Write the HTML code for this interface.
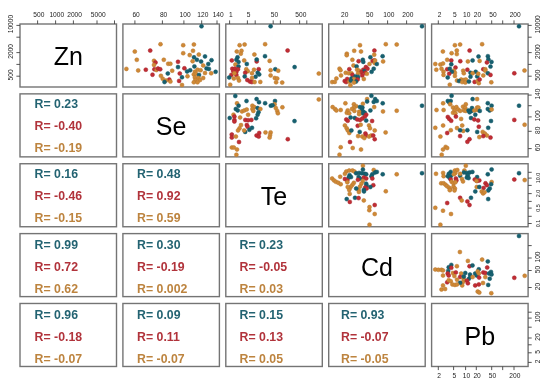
<!DOCTYPE html>
<html><head><meta charset="utf-8"><style>
html,body{margin:0;padding:0;background:#fff;}
body{width:550px;height:386px;overflow:hidden;}
svg{display:block;}
.tl{font-family:"Liberation Sans",Arial,sans-serif;font-size:7px;fill:#222;}
.tv{font-family:"Liberation Sans",Arial,sans-serif;font-size:6.6px;fill:#222;}
.tte{font-family:"Liberation Sans",Arial,sans-serif;font-size:5.4px;fill:#222;}
.dg{font-family:"Liberation Sans",Arial,sans-serif;font-size:25px;fill:#000;}
.rv{font-family:"Liberation Sans",Arial,sans-serif;font-size:12.3px;font-weight:bold;}
</style></head><body>
<svg width="550" height="386" viewBox="0 0 550 386">
<rect x="20.00" y="24.00" width="96.5" height="63.0" fill="none" stroke="#747474" stroke-width="1.4"/>
<rect x="122.90" y="24.00" width="96.5" height="63.0" fill="none" stroke="#747474" stroke-width="1.4"/>
<rect x="225.80" y="24.00" width="96.5" height="63.0" fill="none" stroke="#747474" stroke-width="1.4"/>
<rect x="328.70" y="24.00" width="96.5" height="63.0" fill="none" stroke="#747474" stroke-width="1.4"/>
<rect x="431.60" y="24.00" width="96.5" height="63.0" fill="none" stroke="#747474" stroke-width="1.4"/>
<rect x="20.00" y="93.87" width="96.5" height="63.0" fill="none" stroke="#747474" stroke-width="1.4"/>
<rect x="122.90" y="93.87" width="96.5" height="63.0" fill="none" stroke="#747474" stroke-width="1.4"/>
<rect x="225.80" y="93.87" width="96.5" height="63.0" fill="none" stroke="#747474" stroke-width="1.4"/>
<rect x="328.70" y="93.87" width="96.5" height="63.0" fill="none" stroke="#747474" stroke-width="1.4"/>
<rect x="431.60" y="93.87" width="96.5" height="63.0" fill="none" stroke="#747474" stroke-width="1.4"/>
<rect x="20.00" y="163.74" width="96.5" height="63.0" fill="none" stroke="#747474" stroke-width="1.4"/>
<rect x="122.90" y="163.74" width="96.5" height="63.0" fill="none" stroke="#747474" stroke-width="1.4"/>
<rect x="225.80" y="163.74" width="96.5" height="63.0" fill="none" stroke="#747474" stroke-width="1.4"/>
<rect x="328.70" y="163.74" width="96.5" height="63.0" fill="none" stroke="#747474" stroke-width="1.4"/>
<rect x="431.60" y="163.74" width="96.5" height="63.0" fill="none" stroke="#747474" stroke-width="1.4"/>
<rect x="20.00" y="233.61" width="96.5" height="63.0" fill="none" stroke="#747474" stroke-width="1.4"/>
<rect x="122.90" y="233.61" width="96.5" height="63.0" fill="none" stroke="#747474" stroke-width="1.4"/>
<rect x="225.80" y="233.61" width="96.5" height="63.0" fill="none" stroke="#747474" stroke-width="1.4"/>
<rect x="328.70" y="233.61" width="96.5" height="63.0" fill="none" stroke="#747474" stroke-width="1.4"/>
<rect x="431.60" y="233.61" width="96.5" height="63.0" fill="none" stroke="#747474" stroke-width="1.4"/>
<rect x="20.00" y="303.48" width="96.5" height="63.0" fill="none" stroke="#747474" stroke-width="1.4"/>
<rect x="122.90" y="303.48" width="96.5" height="63.0" fill="none" stroke="#747474" stroke-width="1.4"/>
<rect x="225.80" y="303.48" width="96.5" height="63.0" fill="none" stroke="#747474" stroke-width="1.4"/>
<rect x="328.70" y="303.48" width="96.5" height="63.0" fill="none" stroke="#747474" stroke-width="1.4"/>
<rect x="431.60" y="303.48" width="96.5" height="63.0" fill="none" stroke="#747474" stroke-width="1.4"/>
<line x1="37.6" y1="20.40" x2="37.6" y2="24.0" stroke="#444" stroke-width="0.9"/>
<text transform="translate(38.80,16.6) scale(0.95,1)" class="tl" text-anchor="middle">500</text>
<line x1="55.6" y1="20.40" x2="55.6" y2="24.0" stroke="#444" stroke-width="0.9"/>
<text transform="translate(56.80,16.6) scale(0.95,1)" class="tl" text-anchor="middle">1000</text>
<line x1="73.4" y1="20.40" x2="73.4" y2="24.0" stroke="#444" stroke-width="0.9"/>
<text transform="translate(74.60,16.6) scale(0.95,1)" class="tl" text-anchor="middle">2000</text>
<line x1="97.0" y1="20.40" x2="97.0" y2="24.0" stroke="#444" stroke-width="0.9"/>
<text transform="translate(98.20,16.6) scale(0.95,1)" class="tl" text-anchor="middle">5000</text>
<line x1="114.5" y1="20.40" x2="114.5" y2="24.0" stroke="#444" stroke-width="0.9"/>
<line x1="134.9" y1="20.40" x2="134.9" y2="24.0" stroke="#444" stroke-width="0.9"/>
<text transform="translate(136.10,16.6) scale(0.95,1)" class="tl" text-anchor="middle">60</text>
<line x1="162.4" y1="20.40" x2="162.4" y2="24.0" stroke="#444" stroke-width="0.9"/>
<text transform="translate(163.60,16.6) scale(0.95,1)" class="tl" text-anchor="middle">80</text>
<line x1="183.9" y1="20.40" x2="183.9" y2="24.0" stroke="#444" stroke-width="0.9"/>
<text transform="translate(185.10,16.6) scale(0.95,1)" class="tl" text-anchor="middle">100</text>
<line x1="201.7" y1="20.40" x2="201.7" y2="24.0" stroke="#444" stroke-width="0.9"/>
<text transform="translate(202.90,16.6) scale(0.95,1)" class="tl" text-anchor="middle">120</text>
<line x1="217.0" y1="20.40" x2="217.0" y2="24.0" stroke="#444" stroke-width="0.9"/>
<text transform="translate(218.20,16.6) scale(0.95,1)" class="tl" text-anchor="middle">140</text>
<line x1="229.6" y1="20.40" x2="229.6" y2="24.0" stroke="#444" stroke-width="0.9"/>
<text transform="translate(230.80,16.6) scale(0.95,1)" class="tl" text-anchor="middle">1</text>
<line x1="247.4" y1="20.40" x2="247.4" y2="24.0" stroke="#444" stroke-width="0.9"/>
<text transform="translate(248.60,16.6) scale(0.95,1)" class="tl" text-anchor="middle">5</text>
<line x1="255.2" y1="20.40" x2="255.2" y2="24.0" stroke="#444" stroke-width="0.9"/>
<line x1="273.2" y1="20.40" x2="273.2" y2="24.0" stroke="#444" stroke-width="0.9"/>
<text transform="translate(274.40,16.6) scale(0.95,1)" class="tl" text-anchor="middle">50</text>
<line x1="280.4" y1="20.40" x2="280.4" y2="24.0" stroke="#444" stroke-width="0.9"/>
<line x1="299.6" y1="20.40" x2="299.6" y2="24.0" stroke="#444" stroke-width="0.9"/>
<text transform="translate(300.80,16.6) scale(0.95,1)" class="tl" text-anchor="middle">500</text>
<line x1="306.8" y1="20.40" x2="306.8" y2="24.0" stroke="#444" stroke-width="0.9"/>
<line x1="343.6" y1="20.40" x2="343.6" y2="24.0" stroke="#444" stroke-width="0.9"/>
<text transform="translate(344.80,16.6) scale(0.95,1)" class="tl" text-anchor="middle">20</text>
<line x1="368.6" y1="20.40" x2="368.6" y2="24.0" stroke="#444" stroke-width="0.9"/>
<text transform="translate(369.80,16.6) scale(0.95,1)" class="tl" text-anchor="middle">50</text>
<line x1="387.6" y1="20.40" x2="387.6" y2="24.0" stroke="#444" stroke-width="0.9"/>
<text transform="translate(388.80,16.6) scale(0.95,1)" class="tl" text-anchor="middle">100</text>
<line x1="406.6" y1="20.40" x2="406.6" y2="24.0" stroke="#444" stroke-width="0.9"/>
<text transform="translate(407.80,16.6) scale(0.95,1)" class="tl" text-anchor="middle">200</text>
<line x1="438.3" y1="20.40" x2="438.3" y2="24.0" stroke="#444" stroke-width="0.9"/>
<text transform="translate(439.50,16.6) scale(0.95,1)" class="tl" text-anchor="middle">2</text>
<line x1="453.6" y1="20.40" x2="453.6" y2="24.0" stroke="#444" stroke-width="0.9"/>
<text transform="translate(454.80,16.6) scale(0.95,1)" class="tl" text-anchor="middle">5</text>
<line x1="465.6" y1="20.40" x2="465.6" y2="24.0" stroke="#444" stroke-width="0.9"/>
<text transform="translate(466.80,16.6) scale(0.95,1)" class="tl" text-anchor="middle">10</text>
<line x1="476.3" y1="20.40" x2="476.3" y2="24.0" stroke="#444" stroke-width="0.9"/>
<text transform="translate(477.50,16.6) scale(0.95,1)" class="tl" text-anchor="middle">20</text>
<line x1="491.7" y1="20.40" x2="491.7" y2="24.0" stroke="#444" stroke-width="0.9"/>
<text transform="translate(492.90,16.6) scale(0.95,1)" class="tl" text-anchor="middle">50</text>
<line x1="502.7" y1="20.40" x2="502.7" y2="24.0" stroke="#444" stroke-width="0.9"/>
<line x1="514.0" y1="20.40" x2="514.0" y2="24.0" stroke="#444" stroke-width="0.9"/>
<text transform="translate(515.20,16.6) scale(0.95,1)" class="tl" text-anchor="middle">200</text>
<line x1="438.3" y1="366.48" x2="438.3" y2="370.08" stroke="#444" stroke-width="0.9"/>
<text transform="translate(439.10,378.08) scale(0.95,1)" class="tl" text-anchor="middle">2</text>
<line x1="453.6" y1="366.48" x2="453.6" y2="370.08" stroke="#444" stroke-width="0.9"/>
<text transform="translate(454.40,378.08) scale(0.95,1)" class="tl" text-anchor="middle">5</text>
<line x1="465.6" y1="366.48" x2="465.6" y2="370.08" stroke="#444" stroke-width="0.9"/>
<text transform="translate(466.40,378.08) scale(0.95,1)" class="tl" text-anchor="middle">10</text>
<line x1="476.3" y1="366.48" x2="476.3" y2="370.08" stroke="#444" stroke-width="0.9"/>
<text transform="translate(477.10,378.08) scale(0.95,1)" class="tl" text-anchor="middle">20</text>
<line x1="491.7" y1="366.48" x2="491.7" y2="370.08" stroke="#444" stroke-width="0.9"/>
<text transform="translate(492.50,378.08) scale(0.95,1)" class="tl" text-anchor="middle">50</text>
<line x1="502.7" y1="366.48" x2="502.7" y2="370.08" stroke="#444" stroke-width="0.9"/>
<line x1="514.0" y1="366.48" x2="514.0" y2="370.08" stroke="#444" stroke-width="0.9"/>
<text transform="translate(514.80,378.08) scale(0.95,1)" class="tl" text-anchor="middle">200</text>
<line x1="16.40" y1="25.4" x2="20.0" y2="25.4" stroke="#444" stroke-width="0.9"/>
<text transform="translate(13.2,24.10) rotate(-90)" class="tv" text-anchor="middle">10000</text>
<line x1="16.40" y1="37.2" x2="20.0" y2="37.2" stroke="#444" stroke-width="0.9"/>
<line x1="16.40" y1="52.6" x2="20.0" y2="52.6" stroke="#444" stroke-width="0.9"/>
<text transform="translate(13.2,51.30) rotate(-90)" class="tv" text-anchor="middle">2000</text>
<line x1="16.40" y1="64.4" x2="20.0" y2="64.4" stroke="#444" stroke-width="0.9"/>
<line x1="16.40" y1="76.2" x2="20.0" y2="76.2" stroke="#444" stroke-width="0.9"/>
<text transform="translate(13.2,74.90) rotate(-90)" class="tv" text-anchor="middle">500</text>
<line x1="528.10" y1="25.4" x2="531.70" y2="25.4" stroke="#444" stroke-width="0.9"/>
<text transform="translate(539.50,24.40) rotate(-90)" class="tv" text-anchor="middle">10000</text>
<line x1="528.10" y1="37.2" x2="531.70" y2="37.2" stroke="#444" stroke-width="0.9"/>
<line x1="528.10" y1="52.6" x2="531.70" y2="52.6" stroke="#444" stroke-width="0.9"/>
<text transform="translate(539.50,51.60) rotate(-90)" class="tv" text-anchor="middle">2000</text>
<line x1="528.10" y1="64.4" x2="531.70" y2="64.4" stroke="#444" stroke-width="0.9"/>
<line x1="528.10" y1="76.2" x2="531.70" y2="76.2" stroke="#444" stroke-width="0.9"/>
<text transform="translate(539.50,75.20) rotate(-90)" class="tv" text-anchor="middle">500</text>
<line x1="528.10" y1="95.1" x2="531.70" y2="95.1" stroke="#444" stroke-width="0.9"/>
<text transform="translate(539.50,94.10) rotate(-90)" class="tv" text-anchor="middle">140</text>
<line x1="528.10" y1="105.7" x2="531.70" y2="105.7" stroke="#444" stroke-width="0.9"/>
<line x1="528.10" y1="116.9" x2="531.70" y2="116.9" stroke="#444" stroke-width="0.9"/>
<text transform="translate(539.50,115.90) rotate(-90)" class="tv" text-anchor="middle">100</text>
<line x1="528.10" y1="131.3" x2="531.70" y2="131.3" stroke="#444" stroke-width="0.9"/>
<text transform="translate(539.50,130.30) rotate(-90)" class="tv" text-anchor="middle">80</text>
<line x1="528.10" y1="148.6" x2="531.70" y2="148.6" stroke="#444" stroke-width="0.9"/>
<text transform="translate(539.50,147.60) rotate(-90)" class="tv" text-anchor="middle">60</text>
<line x1="528.10" y1="172.3" x2="531.70" y2="172.3" stroke="#444" stroke-width="0.9"/>
<line x1="528.10" y1="178.1" x2="531.70" y2="178.1" stroke="#444" stroke-width="0.9"/>
<text transform="translate(539.50,178.10) rotate(-90)" class="tte" text-anchor="middle">10.0</text>
<line x1="528.10" y1="185.4" x2="531.70" y2="185.4" stroke="#444" stroke-width="0.9"/>
<line x1="528.10" y1="193.6" x2="531.70" y2="193.6" stroke="#444" stroke-width="0.9"/>
<text transform="translate(539.50,193.60) rotate(-90)" class="tte" text-anchor="middle">2.0</text>
<line x1="528.10" y1="201.4" x2="531.70" y2="201.4" stroke="#444" stroke-width="0.9"/>
<line x1="528.10" y1="208.1" x2="531.70" y2="208.1" stroke="#444" stroke-width="0.9"/>
<text transform="translate(539.50,208.10) rotate(-90)" class="tte" text-anchor="middle">0.5</text>
<line x1="528.10" y1="216.3" x2="531.70" y2="216.3" stroke="#444" stroke-width="0.9"/>
<line x1="528.10" y1="223.5" x2="531.70" y2="223.5" stroke="#444" stroke-width="0.9"/>
<text transform="translate(539.50,223.50) rotate(-90)" class="tte" text-anchor="middle">0.1</text>
<line x1="528.10" y1="245.6" x2="531.70" y2="245.6" stroke="#444" stroke-width="0.9"/>
<line x1="528.10" y1="258.0" x2="531.70" y2="258.0" stroke="#444" stroke-width="0.9"/>
<text transform="translate(539.50,257.00) rotate(-90)" class="tv" text-anchor="middle">100</text>
<line x1="528.10" y1="270.5" x2="531.70" y2="270.5" stroke="#444" stroke-width="0.9"/>
<text transform="translate(539.50,269.50) rotate(-90)" class="tv" text-anchor="middle">50</text>
<line x1="528.10" y1="287.5" x2="531.70" y2="287.5" stroke="#444" stroke-width="0.9"/>
<text transform="translate(539.50,286.50) rotate(-90)" class="tv" text-anchor="middle">20</text>
<line x1="528.10" y1="312.2" x2="531.70" y2="312.2" stroke="#444" stroke-width="0.9"/>
<line x1="528.10" y1="318.1" x2="531.70" y2="318.1" stroke="#444" stroke-width="0.9"/>
<text transform="translate(539.50,317.10) rotate(-90)" class="tv" text-anchor="middle">100</text>
<line x1="528.10" y1="327.2" x2="531.70" y2="327.2" stroke="#444" stroke-width="0.9"/>
<line x1="528.10" y1="338.0" x2="531.70" y2="338.0" stroke="#444" stroke-width="0.9"/>
<text transform="translate(539.50,337.00) rotate(-90)" class="tv" text-anchor="middle">20</text>
<line x1="528.10" y1="344.8" x2="531.70" y2="344.8" stroke="#444" stroke-width="0.9"/>
<line x1="528.10" y1="352.8" x2="531.70" y2="352.8" stroke="#444" stroke-width="0.9"/>
<text transform="translate(539.50,351.80) rotate(-90)" class="tv" text-anchor="middle">5</text>
<line x1="528.10" y1="362.4" x2="531.70" y2="362.4" stroke="#444" stroke-width="0.9"/>
<text transform="translate(539.50,361.40) rotate(-90)" class="tv" text-anchor="middle">2</text>
<text x="68.25" y="64.70" class="dg" text-anchor="middle">Zn</text>
<text x="171.15" y="134.57" class="dg" text-anchor="middle">Se</text>
<text x="274.05" y="204.64" class="dg" text-anchor="middle">Te</text>
<text x="376.95" y="275.51" class="dg" text-anchor="middle">Cd</text>
<text x="479.85" y="345.38" class="dg" text-anchor="middle">Pb</text>
<text x="34.60" y="107.87" class="rv" fill="#236372">R= 0.23</text>
<text x="34.60" y="130.17" class="rv" fill="#b1333b">R= -0.40</text>
<text x="34.60" y="152.47" class="rv" fill="#bd843f">R= -0.19</text>
<text x="34.60" y="177.74" class="rv" fill="#236372">R= 0.16</text>
<text x="34.60" y="200.04" class="rv" fill="#b1333b">R= -0.46</text>
<text x="34.60" y="222.34" class="rv" fill="#bd843f">R= -0.15</text>
<text x="137.10" y="177.74" class="rv" fill="#236372">R= 0.48</text>
<text x="137.10" y="200.04" class="rv" fill="#b1333b">R= 0.92</text>
<text x="137.10" y="222.34" class="rv" fill="#bd843f">R= 0.59</text>
<text x="34.60" y="248.81" class="rv" fill="#236372">R= 0.99</text>
<text x="34.60" y="271.11" class="rv" fill="#b1333b">R= 0.72</text>
<text x="34.60" y="293.41" class="rv" fill="#bd843f">R= 0.62</text>
<text x="137.10" y="248.81" class="rv" fill="#236372">R= 0.30</text>
<text x="137.10" y="271.11" class="rv" fill="#b1333b">R= -0.19</text>
<text x="137.10" y="293.41" class="rv" fill="#bd843f">R= 0.002</text>
<text x="239.60" y="248.81" class="rv" fill="#236372">R= 0.23</text>
<text x="239.60" y="271.11" class="rv" fill="#b1333b">R= -0.05</text>
<text x="239.60" y="293.41" class="rv" fill="#bd843f">R= 0.03</text>
<text x="34.60" y="318.88" class="rv" fill="#236372">R= 0.96</text>
<text x="34.60" y="341.18" class="rv" fill="#b1333b">R= -0.18</text>
<text x="34.60" y="363.48" class="rv" fill="#bd843f">R= -0.07</text>
<text x="137.10" y="318.88" class="rv" fill="#236372">R= 0.09</text>
<text x="137.10" y="341.18" class="rv" fill="#b1333b">R= 0.11</text>
<text x="137.10" y="363.48" class="rv" fill="#bd843f">R= -0.07</text>
<text x="239.60" y="318.88" class="rv" fill="#236372">R= 0.15</text>
<text x="239.60" y="341.18" class="rv" fill="#b1333b">R= 0.13</text>
<text x="239.60" y="363.48" class="rv" fill="#bd843f">R= 0.05</text>
<text x="341.00" y="318.88" class="rv" fill="#236372">R= 0.93</text>
<text x="341.00" y="341.18" class="rv" fill="#b1333b">R= -0.07</text>
<text x="341.00" y="363.48" class="rv" fill="#bd843f">R= -0.05</text>
<g stroke-width="0.5">
<circle cx="134.8" cy="51.6" r="2.0" fill="#cf8936" stroke="#b9772e"/>
<circle cx="150.2" cy="50.6" r="2.0" fill="#c12d34" stroke="#a5232b"/>
<circle cx="160.5" cy="44.2" r="2.0" fill="#cf8936" stroke="#b9772e"/>
<circle cx="136.8" cy="59.8" r="2.0" fill="#cf8936" stroke="#b9772e"/>
<circle cx="163.8" cy="59.8" r="2.0" fill="#cf8936" stroke="#b9772e"/>
<circle cx="154.0" cy="60.8" r="2.0" fill="#cf8936" stroke="#b9772e"/>
<circle cx="155.5" cy="62.5" r="2.0" fill="#c12d34" stroke="#a5232b"/>
<circle cx="154.0" cy="64.9" r="2.0" fill="#cf8936" stroke="#b9772e"/>
<circle cx="168.2" cy="63.8" r="2.0" fill="#cf8936" stroke="#b9772e"/>
<circle cx="170.4" cy="63.8" r="2.0" fill="#cf8936" stroke="#b9772e"/>
<circle cx="126.4" cy="68.9" r="2.0" fill="#cf8936" stroke="#b9772e"/>
<circle cx="138.2" cy="70.4" r="2.0" fill="#cf8936" stroke="#b9772e"/>
<circle cx="145.8" cy="69.7" r="2.0" fill="#c12d34" stroke="#a5232b"/>
<circle cx="154.4" cy="69.3" r="2.0" fill="#c12d34" stroke="#a5232b"/>
<circle cx="156.5" cy="70.0" r="2.0" fill="#cf8936" stroke="#b9772e"/>
<circle cx="158.0" cy="68.5" r="2.0" fill="#c12d34" stroke="#a5232b"/>
<circle cx="160.2" cy="69.3" r="2.0" fill="#c12d34" stroke="#a5232b"/>
<circle cx="172.2" cy="70.7" r="2.0" fill="#cf8936" stroke="#b9772e"/>
<circle cx="167.8" cy="73.5" r="2.0" fill="#17606f" stroke="#135666"/>
<circle cx="152.5" cy="74.7" r="2.0" fill="#c12d34" stroke="#a5232b"/>
<circle cx="160.9" cy="75.8" r="2.0" fill="#cf8936" stroke="#b9772e"/>
<circle cx="162.7" cy="78.7" r="2.0" fill="#cf8936" stroke="#b9772e"/>
<circle cx="169.3" cy="79.5" r="2.0" fill="#c12d34" stroke="#a5232b"/>
<circle cx="166.0" cy="80.5" r="2.0" fill="#cf8936" stroke="#b9772e"/>
<circle cx="170.4" cy="81.6" r="2.0" fill="#cf8936" stroke="#b9772e"/>
<circle cx="164.5" cy="82.0" r="2.0" fill="#17606f" stroke="#135666"/>
<circle cx="201.5" cy="26.3" r="2.0" fill="#17606f" stroke="#135666"/>
<circle cx="183.2" cy="45.2" r="2.0" fill="#cf8936" stroke="#b9772e"/>
<circle cx="193.9" cy="44.5" r="2.0" fill="#cf8936" stroke="#b9772e"/>
<circle cx="193.0" cy="50.8" r="2.0" fill="#cf8936" stroke="#b9772e"/>
<circle cx="183.2" cy="53.2" r="2.0" fill="#cf8936" stroke="#b9772e"/>
<circle cx="189.7" cy="55.1" r="2.0" fill="#cf8936" stroke="#b9772e"/>
<circle cx="198.8" cy="54.6" r="2.0" fill="#cf8936" stroke="#b9772e"/>
<circle cx="205.0" cy="56.4" r="2.0" fill="#17606f" stroke="#135666"/>
<circle cx="194.0" cy="57.3" r="2.0" fill="#17606f" stroke="#135666"/>
<circle cx="196.9" cy="59.8" r="2.0" fill="#17606f" stroke="#135666"/>
<circle cx="192.6" cy="61.2" r="2.0" fill="#cf8936" stroke="#b9772e"/>
<circle cx="201.1" cy="61.6" r="2.0" fill="#17606f" stroke="#135666"/>
<circle cx="211.5" cy="60.2" r="2.0" fill="#17606f" stroke="#135666"/>
<circle cx="178.0" cy="61.8" r="2.0" fill="#c12d34" stroke="#a5232b"/>
<circle cx="208.3" cy="64.0" r="2.0" fill="#17606f" stroke="#135666"/>
<circle cx="203.2" cy="65.5" r="2.0" fill="#cf8936" stroke="#b9772e"/>
<circle cx="194.4" cy="66.4" r="2.0" fill="#17606f" stroke="#135666"/>
<circle cx="178.0" cy="67.1" r="2.0" fill="#17606f" stroke="#135666"/>
<circle cx="184.4" cy="68.3" r="2.0" fill="#c12d34" stroke="#a5232b"/>
<circle cx="206.5" cy="68.4" r="2.0" fill="#17606f" stroke="#135666"/>
<circle cx="208.9" cy="68.9" r="2.0" fill="#17606f" stroke="#135666"/>
<circle cx="190.2" cy="70.2" r="2.0" fill="#17606f" stroke="#135666"/>
<circle cx="187.1" cy="71.5" r="2.0" fill="#17606f" stroke="#135666"/>
<circle cx="197.5" cy="69.7" r="2.0" fill="#cf8936" stroke="#b9772e"/>
<circle cx="200.6" cy="70.2" r="2.0" fill="#cf8936" stroke="#b9772e"/>
<circle cx="194.9" cy="71.8" r="2.0" fill="#cf8936" stroke="#b9772e"/>
<circle cx="215.6" cy="71.8" r="2.0" fill="#17606f" stroke="#135666"/>
<circle cx="205.0" cy="73.0" r="2.0" fill="#cf8936" stroke="#b9772e"/>
<circle cx="211.2" cy="73.3" r="2.0" fill="#cf8936" stroke="#b9772e"/>
<circle cx="179.8" cy="73.5" r="2.0" fill="#c12d34" stroke="#a5232b"/>
<circle cx="193.8" cy="74.4" r="2.0" fill="#cf8936" stroke="#b9772e"/>
<circle cx="195.9" cy="73.8" r="2.0" fill="#cf8936" stroke="#b9772e"/>
<circle cx="199.0" cy="74.9" r="2.0" fill="#17606f" stroke="#135666"/>
<circle cx="187.5" cy="76.3" r="2.0" fill="#cf8936" stroke="#b9772e"/>
<circle cx="182.0" cy="77.3" r="2.0" fill="#17606f" stroke="#135666"/>
<circle cx="194.9" cy="77.5" r="2.0" fill="#cf8936" stroke="#b9772e"/>
<circle cx="198.5" cy="78.0" r="2.0" fill="#cf8936" stroke="#b9772e"/>
<circle cx="203.2" cy="78.0" r="2.0" fill="#cf8936" stroke="#b9772e"/>
<circle cx="195.4" cy="80.0" r="2.0" fill="#cf8936" stroke="#b9772e"/>
<circle cx="200.0" cy="80.0" r="2.0" fill="#cf8936" stroke="#b9772e"/>
<circle cx="179.1" cy="80.9" r="2.0" fill="#c12d34" stroke="#a5232b"/>
<circle cx="193.8" cy="82.3" r="2.0" fill="#cf8936" stroke="#b9772e"/>
<circle cx="197.5" cy="82.3" r="2.0" fill="#cf8936" stroke="#b9772e"/>
<circle cx="182.0" cy="85.0" r="2.0" fill="#cf8936" stroke="#b9772e"/>
<circle cx="270.6" cy="26.3" r="2.0" fill="#17606f" stroke="#135666"/>
<circle cx="239.6" cy="45.2" r="2.0" fill="#cf8936" stroke="#b9772e"/>
<circle cx="244.6" cy="44.5" r="2.0" fill="#cf8936" stroke="#b9772e"/>
<circle cx="265.1" cy="44.2" r="2.0" fill="#cf8936" stroke="#b9772e"/>
<circle cx="236.8" cy="51.5" r="2.0" fill="#cf8936" stroke="#b9772e"/>
<circle cx="241.5" cy="50.8" r="2.0" fill="#cf8936" stroke="#b9772e"/>
<circle cx="240.8" cy="53.7" r="2.0" fill="#cf8936" stroke="#b9772e"/>
<circle cx="254.4" cy="54.5" r="2.0" fill="#cf8936" stroke="#b9772e"/>
<circle cx="265.0" cy="56.2" r="2.0" fill="#17606f" stroke="#135666"/>
<circle cx="237.5" cy="57.3" r="2.0" fill="#17606f" stroke="#135666"/>
<circle cx="231.8" cy="60.4" r="2.0" fill="#c12d34" stroke="#a5232b"/>
<circle cx="236.4" cy="59.8" r="2.0" fill="#17606f" stroke="#135666"/>
<circle cx="238.5" cy="61.9" r="2.0" fill="#17606f" stroke="#135666"/>
<circle cx="244.2" cy="60.4" r="2.0" fill="#cf8936" stroke="#b9772e"/>
<circle cx="256.7" cy="61.4" r="2.0" fill="#c12d34" stroke="#a5232b"/>
<circle cx="256.7" cy="59.5" r="2.0" fill="#17606f" stroke="#135666"/>
<circle cx="269.6" cy="60.9" r="2.0" fill="#cf8936" stroke="#b9772e"/>
<circle cx="246.8" cy="64.0" r="2.0" fill="#17606f" stroke="#135666"/>
<circle cx="235.4" cy="64.5" r="2.0" fill="#cf8936" stroke="#b9772e"/>
<circle cx="238.5" cy="66.4" r="2.0" fill="#17606f" stroke="#135666"/>
<circle cx="232.3" cy="68.7" r="2.0" fill="#c12d34" stroke="#a5232b"/>
<circle cx="234.9" cy="68.7" r="2.0" fill="#c12d34" stroke="#a5232b"/>
<circle cx="238.0" cy="69.2" r="2.0" fill="#c12d34" stroke="#a5232b"/>
<circle cx="233.3" cy="71.2" r="2.0" fill="#c12d34" stroke="#a5232b"/>
<circle cx="236.4" cy="71.8" r="2.0" fill="#c12d34" stroke="#a5232b"/>
<circle cx="246.3" cy="69.2" r="2.0" fill="#cf8936" stroke="#b9772e"/>
<circle cx="247.8" cy="71.2" r="2.0" fill="#cf8936" stroke="#b9772e"/>
<circle cx="245.2" cy="72.8" r="2.0" fill="#c12d34" stroke="#a5232b"/>
<circle cx="254.0" cy="69.7" r="2.0" fill="#cf8936" stroke="#b9772e"/>
<circle cx="258.7" cy="69.2" r="2.0" fill="#c12d34" stroke="#a5232b"/>
<circle cx="252.0" cy="73.3" r="2.0" fill="#cf8936" stroke="#b9772e"/>
<circle cx="257.7" cy="72.8" r="2.0" fill="#17606f" stroke="#135666"/>
<circle cx="259.2" cy="74.4" r="2.0" fill="#17606f" stroke="#135666"/>
<circle cx="270.6" cy="70.2" r="2.0" fill="#cf8936" stroke="#b9772e"/>
<circle cx="275.3" cy="69.2" r="2.0" fill="#17606f" stroke="#135666"/>
<circle cx="231.3" cy="74.9" r="2.0" fill="#c12d34" stroke="#a5232b"/>
<circle cx="236.4" cy="74.9" r="2.0" fill="#c12d34" stroke="#a5232b"/>
<circle cx="234.4" cy="73.3" r="2.0" fill="#cf8936" stroke="#b9772e"/>
<circle cx="270.6" cy="75.4" r="2.0" fill="#cf8936" stroke="#b9772e"/>
<circle cx="229.2" cy="77.5" r="2.0" fill="#17606f" stroke="#135666"/>
<circle cx="233.8" cy="78.5" r="2.0" fill="#cf8936" stroke="#b9772e"/>
<circle cx="238.0" cy="78.0" r="2.0" fill="#cf8936" stroke="#b9772e"/>
<circle cx="244.7" cy="76.4" r="2.0" fill="#17606f" stroke="#135666"/>
<circle cx="255.6" cy="76.7" r="2.0" fill="#17606f" stroke="#135666"/>
<circle cx="252.0" cy="78.0" r="2.0" fill="#cf8936" stroke="#b9772e"/>
<circle cx="239.0" cy="80.6" r="2.0" fill="#cf8936" stroke="#b9772e"/>
<circle cx="247.3" cy="80.0" r="2.0" fill="#c12d34" stroke="#a5232b"/>
<circle cx="249.9" cy="81.6" r="2.0" fill="#c12d34" stroke="#a5232b"/>
<circle cx="251.8" cy="82.1" r="2.0" fill="#c12d34" stroke="#a5232b"/>
<circle cx="254.6" cy="82.1" r="2.0" fill="#cf8936" stroke="#b9772e"/>
<circle cx="260.3" cy="81.9" r="2.0" fill="#cf8936" stroke="#b9772e"/>
<circle cx="274.8" cy="78.0" r="2.0" fill="#cf8936" stroke="#b9772e"/>
<circle cx="230.2" cy="84.7" r="2.0" fill="#cf8936" stroke="#b9772e"/>
<circle cx="287.6" cy="50.5" r="2.0" fill="#c12d34" stroke="#a5232b"/>
<circle cx="294.6" cy="67.1" r="2.0" fill="#17606f" stroke="#135666"/>
<circle cx="278.2" cy="70.7" r="2.0" fill="#cf8936" stroke="#b9772e"/>
<circle cx="318.8" cy="73.6" r="2.0" fill="#cf8936" stroke="#b9772e"/>
<circle cx="277.2" cy="78.5" r="2.0" fill="#cf8936" stroke="#b9772e"/>
<circle cx="276.1" cy="82.3" r="2.0" fill="#cf8936" stroke="#b9772e"/>
<circle cx="282.2" cy="82.6" r="2.0" fill="#cf8936" stroke="#b9772e"/>
<circle cx="360.0" cy="45.2" r="2.0" fill="#cf8936" stroke="#b9772e"/>
<circle cx="354.2" cy="50.8" r="2.0" fill="#cf8936" stroke="#b9772e"/>
<circle cx="361.0" cy="51.5" r="2.0" fill="#cf8936" stroke="#b9772e"/>
<circle cx="346.8" cy="53.7" r="2.0" fill="#cf8936" stroke="#b9772e"/>
<circle cx="346.7" cy="55.2" r="2.0" fill="#cf8936" stroke="#b9772e"/>
<circle cx="374.4" cy="50.6" r="2.0" fill="#c12d34" stroke="#a5232b"/>
<circle cx="374.2" cy="54.7" r="2.0" fill="#cf8936" stroke="#b9772e"/>
<circle cx="370.4" cy="57.3" r="2.0" fill="#17606f" stroke="#135666"/>
<circle cx="352.4" cy="59.8" r="2.0" fill="#cf8936" stroke="#b9772e"/>
<circle cx="358.6" cy="61.2" r="2.0" fill="#c12d34" stroke="#a5232b"/>
<circle cx="362.8" cy="59.8" r="2.0" fill="#17606f" stroke="#135666"/>
<circle cx="363.3" cy="61.9" r="2.0" fill="#17606f" stroke="#135666"/>
<circle cx="372.6" cy="60.9" r="2.0" fill="#c12d34" stroke="#a5232b"/>
<circle cx="374.2" cy="60.4" r="2.0" fill="#c12d34" stroke="#a5232b"/>
<circle cx="374.7" cy="63.0" r="2.0" fill="#cf8936" stroke="#b9772e"/>
<circle cx="376.8" cy="64.0" r="2.0" fill="#17606f" stroke="#135666"/>
<circle cx="369.5" cy="64.0" r="2.0" fill="#cf8936" stroke="#b9772e"/>
<circle cx="353.5" cy="65.5" r="2.0" fill="#cf8936" stroke="#b9772e"/>
<circle cx="356.6" cy="66.4" r="2.0" fill="#17606f" stroke="#135666"/>
<circle cx="365.9" cy="67.1" r="2.0" fill="#c12d34" stroke="#a5232b"/>
<circle cx="367.5" cy="68.7" r="2.0" fill="#c12d34" stroke="#a5232b"/>
<circle cx="339.5" cy="68.7" r="2.0" fill="#cf8936" stroke="#b9772e"/>
<circle cx="340.5" cy="70.2" r="2.0" fill="#cf8936" stroke="#b9772e"/>
<circle cx="349.3" cy="69.2" r="2.0" fill="#c12d34" stroke="#a5232b"/>
<circle cx="373.7" cy="68.7" r="2.0" fill="#17606f" stroke="#135666"/>
<circle cx="371.6" cy="71.8" r="2.0" fill="#17606f" stroke="#135666"/>
<circle cx="357.1" cy="69.7" r="2.0" fill="#cf8936" stroke="#b9772e"/>
<circle cx="359.2" cy="70.7" r="2.0" fill="#cf8936" stroke="#b9772e"/>
<circle cx="363.3" cy="69.7" r="2.0" fill="#c12d34" stroke="#a5232b"/>
<circle cx="364.3" cy="71.2" r="2.0" fill="#17606f" stroke="#135666"/>
<circle cx="345.7" cy="72.8" r="2.0" fill="#cf8936" stroke="#b9772e"/>
<circle cx="348.8" cy="73.3" r="2.0" fill="#cf8936" stroke="#b9772e"/>
<circle cx="351.4" cy="73.3" r="2.0" fill="#cf8936" stroke="#b9772e"/>
<circle cx="361.2" cy="72.3" r="2.0" fill="#c12d34" stroke="#a5232b"/>
<circle cx="358.1" cy="73.3" r="2.0" fill="#cf8936" stroke="#b9772e"/>
<circle cx="365.4" cy="72.8" r="2.0" fill="#c12d34" stroke="#a5232b"/>
<circle cx="366.9" cy="73.8" r="2.0" fill="#cf8936" stroke="#b9772e"/>
<circle cx="352.5" cy="74.9" r="2.0" fill="#c12d34" stroke="#a5232b"/>
<circle cx="341.0" cy="75.4" r="2.0" fill="#cf8936" stroke="#b9772e"/>
<circle cx="355.5" cy="76.4" r="2.0" fill="#17606f" stroke="#135666"/>
<circle cx="358.1" cy="76.9" r="2.0" fill="#17606f" stroke="#135666"/>
<circle cx="362.3" cy="75.4" r="2.0" fill="#c12d34" stroke="#a5232b"/>
<circle cx="351.4" cy="78.5" r="2.0" fill="#17606f" stroke="#135666"/>
<circle cx="336.4" cy="78.5" r="2.0" fill="#cf8936" stroke="#b9772e"/>
<circle cx="347.2" cy="79.0" r="2.0" fill="#c12d34" stroke="#a5232b"/>
<circle cx="354.0" cy="79.0" r="2.0" fill="#cf8936" stroke="#b9772e"/>
<circle cx="357.6" cy="79.5" r="2.0" fill="#c12d34" stroke="#a5232b"/>
<circle cx="363.8" cy="79.0" r="2.0" fill="#cf8936" stroke="#b9772e"/>
<circle cx="332.2" cy="82.1" r="2.0" fill="#cf8936" stroke="#b9772e"/>
<circle cx="334.8" cy="81.9" r="2.0" fill="#cf8936" stroke="#b9772e"/>
<circle cx="344.7" cy="81.1" r="2.0" fill="#c12d34" stroke="#a5232b"/>
<circle cx="346.2" cy="82.1" r="2.0" fill="#c12d34" stroke="#a5232b"/>
<circle cx="349.3" cy="81.6" r="2.0" fill="#cf8936" stroke="#b9772e"/>
<circle cx="350.9" cy="80.6" r="2.0" fill="#17606f" stroke="#135666"/>
<circle cx="356.0" cy="81.6" r="2.0" fill="#17606f" stroke="#135666"/>
<circle cx="354.0" cy="82.6" r="2.0" fill="#cf8936" stroke="#b9772e"/>
<circle cx="350.4" cy="85.2" r="2.0" fill="#cf8936" stroke="#b9772e"/>
<circle cx="422.0" cy="26.3" r="2.0" fill="#17606f" stroke="#135666"/>
<circle cx="385.8" cy="44.2" r="2.0" fill="#cf8936" stroke="#b9772e"/>
<circle cx="396.7" cy="44.5" r="2.0" fill="#cf8936" stroke="#b9772e"/>
<circle cx="382.6" cy="56.2" r="2.0" fill="#17606f" stroke="#135666"/>
<circle cx="383.1" cy="61.4" r="2.0" fill="#cf8936" stroke="#b9772e"/>
<circle cx="375.0" cy="60.4" r="2.0" fill="#cf8936" stroke="#b9772e"/>
<circle cx="454.9" cy="45.2" r="2.0" fill="#cf8936" stroke="#b9772e"/>
<circle cx="460.1" cy="44.5" r="2.0" fill="#cf8936" stroke="#b9772e"/>
<circle cx="442.9" cy="51.5" r="2.0" fill="#cf8936" stroke="#b9772e"/>
<circle cx="456.8" cy="50.5" r="2.0" fill="#cf8936" stroke="#b9772e"/>
<circle cx="451.6" cy="53.2" r="2.0" fill="#cf8936" stroke="#b9772e"/>
<circle cx="456.8" cy="54.1" r="2.0" fill="#cf8936" stroke="#b9772e"/>
<circle cx="469.6" cy="50.6" r="2.0" fill="#c12d34" stroke="#a5232b"/>
<circle cx="478.5" cy="56.5" r="2.0" fill="#17606f" stroke="#135666"/>
<circle cx="447.2" cy="59.8" r="2.0" fill="#cf8936" stroke="#b9772e"/>
<circle cx="451.3" cy="60.4" r="2.0" fill="#c12d34" stroke="#a5232b"/>
<circle cx="460.3" cy="61.2" r="2.0" fill="#c12d34" stroke="#a5232b"/>
<circle cx="467.9" cy="61.4" r="2.0" fill="#cf8936" stroke="#b9772e"/>
<circle cx="472.6" cy="60.4" r="2.0" fill="#17606f" stroke="#135666"/>
<circle cx="435.3" cy="64.0" r="2.0" fill="#cf8936" stroke="#b9772e"/>
<circle cx="440.4" cy="64.5" r="2.0" fill="#cf8936" stroke="#b9772e"/>
<circle cx="443.0" cy="63.5" r="2.0" fill="#cf8936" stroke="#b9772e"/>
<circle cx="451.3" cy="64.3" r="2.0" fill="#17606f" stroke="#135666"/>
<circle cx="436.3" cy="69.7" r="2.0" fill="#cf8936" stroke="#b9772e"/>
<circle cx="441.5" cy="68.7" r="2.0" fill="#cf8936" stroke="#b9772e"/>
<circle cx="447.2" cy="69.2" r="2.0" fill="#c12d34" stroke="#a5232b"/>
<circle cx="449.8" cy="68.7" r="2.0" fill="#17606f" stroke="#135666"/>
<circle cx="455.5" cy="67.6" r="2.0" fill="#c12d34" stroke="#a5232b"/>
<circle cx="453.9" cy="70.7" r="2.0" fill="#cf8936" stroke="#b9772e"/>
<circle cx="454.9" cy="72.8" r="2.0" fill="#cf8936" stroke="#b9772e"/>
<circle cx="443.5" cy="71.8" r="2.0" fill="#cf8936" stroke="#b9772e"/>
<circle cx="443.5" cy="74.9" r="2.0" fill="#cf8936" stroke="#b9772e"/>
<circle cx="451.8" cy="71.8" r="2.0" fill="#17606f" stroke="#135666"/>
<circle cx="449.2" cy="73.8" r="2.0" fill="#c12d34" stroke="#a5232b"/>
<circle cx="463.2" cy="70.7" r="2.0" fill="#cf8936" stroke="#b9772e"/>
<circle cx="463.8" cy="73.3" r="2.0" fill="#cf8936" stroke="#b9772e"/>
<circle cx="467.4" cy="69.7" r="2.0" fill="#c12d34" stroke="#a5232b"/>
<circle cx="470.5" cy="72.8" r="2.0" fill="#17606f" stroke="#135666"/>
<circle cx="475.7" cy="71.8" r="2.0" fill="#17606f" stroke="#135666"/>
<circle cx="472.6" cy="73.3" r="2.0" fill="#cf8936" stroke="#b9772e"/>
<circle cx="454.9" cy="75.9" r="2.0" fill="#cf8936" stroke="#b9772e"/>
<circle cx="447.7" cy="77.5" r="2.0" fill="#17606f" stroke="#135666"/>
<circle cx="470.5" cy="76.7" r="2.0" fill="#17606f" stroke="#135666"/>
<circle cx="477.2" cy="76.4" r="2.0" fill="#17606f" stroke="#135666"/>
<circle cx="478.3" cy="73.8" r="2.0" fill="#cf8936" stroke="#b9772e"/>
<circle cx="457.0" cy="80.6" r="2.0" fill="#cf8936" stroke="#b9772e"/>
<circle cx="461.2" cy="79.5" r="2.0" fill="#cf8936" stroke="#b9772e"/>
<circle cx="463.8" cy="80.0" r="2.0" fill="#cf8936" stroke="#b9772e"/>
<circle cx="465.8" cy="79.5" r="2.0" fill="#cf8936" stroke="#b9772e"/>
<circle cx="459.1" cy="81.1" r="2.0" fill="#17606f" stroke="#135666"/>
<circle cx="462.2" cy="82.1" r="2.0" fill="#cf8936" stroke="#b9772e"/>
<circle cx="465.3" cy="82.6" r="2.0" fill="#cf8936" stroke="#b9772e"/>
<circle cx="468.9" cy="81.6" r="2.0" fill="#17606f" stroke="#135666"/>
<circle cx="474.6" cy="81.9" r="2.0" fill="#c12d34" stroke="#a5232b"/>
<circle cx="477.7" cy="81.1" r="2.0" fill="#cf8936" stroke="#b9772e"/>
<circle cx="478.8" cy="83.2" r="2.0" fill="#cf8936" stroke="#b9772e"/>
<circle cx="449.8" cy="84.7" r="2.0" fill="#cf8936" stroke="#b9772e"/>
<circle cx="519.0" cy="26.3" r="2.0" fill="#17606f" stroke="#135666"/>
<circle cx="482.1" cy="44.2" r="2.0" fill="#cf8936" stroke="#b9772e"/>
<circle cx="479.6" cy="60.9" r="2.0" fill="#cf8936" stroke="#b9772e"/>
<circle cx="487.9" cy="56.2" r="2.0" fill="#17606f" stroke="#135666"/>
<circle cx="488.4" cy="59.3" r="2.0" fill="#17606f" stroke="#135666"/>
<circle cx="486.9" cy="62.4" r="2.0" fill="#c12d34" stroke="#a5232b"/>
<circle cx="491.5" cy="61.9" r="2.0" fill="#17606f" stroke="#135666"/>
<circle cx="490.5" cy="66.6" r="2.0" fill="#17606f" stroke="#135666"/>
<circle cx="483.3" cy="69.2" r="2.0" fill="#c12d34" stroke="#a5232b"/>
<circle cx="485.3" cy="69.2" r="2.0" fill="#cf8936" stroke="#b9772e"/>
<circle cx="485.3" cy="70.7" r="2.0" fill="#cf8936" stroke="#b9772e"/>
<circle cx="487.9" cy="73.3" r="2.0" fill="#17606f" stroke="#135666"/>
<circle cx="490.5" cy="74.9" r="2.0" fill="#c12d34" stroke="#a5232b"/>
<circle cx="483.3" cy="75.4" r="2.0" fill="#cf8936" stroke="#b9772e"/>
<circle cx="479.6" cy="79.5" r="2.0" fill="#c12d34" stroke="#a5232b"/>
<circle cx="491.3" cy="82.3" r="2.0" fill="#cf8936" stroke="#b9772e"/>
<circle cx="514.3" cy="73.3" r="2.0" fill="#c12d34" stroke="#a5232b"/>
<circle cx="524.5" cy="70.5" r="2.0" fill="#cf8936" stroke="#b9772e"/>
<circle cx="235.3" cy="96.0" r="2.0" fill="#17606f" stroke="#135666"/>
<circle cx="246.5" cy="101.0" r="2.0" fill="#17606f" stroke="#135666"/>
<circle cx="256.6" cy="99.1" r="2.0" fill="#17606f" stroke="#135666"/>
<circle cx="259.0" cy="102.2" r="2.0" fill="#17606f" stroke="#135666"/>
<circle cx="265.1" cy="103.2" r="2.0" fill="#17606f" stroke="#135666"/>
<circle cx="270.8" cy="105.7" r="2.0" fill="#17606f" stroke="#135666"/>
<circle cx="275.0" cy="101.0" r="2.0" fill="#17606f" stroke="#135666"/>
<circle cx="274.6" cy="104.3" r="2.0" fill="#cf8936" stroke="#b9772e"/>
<circle cx="237.0" cy="103.3" r="2.0" fill="#cf8936" stroke="#b9772e"/>
<circle cx="238.6" cy="105.7" r="2.0" fill="#17606f" stroke="#135666"/>
<circle cx="235.8" cy="109.0" r="2.0" fill="#17606f" stroke="#135666"/>
<circle cx="237.7" cy="110.4" r="2.0" fill="#17606f" stroke="#135666"/>
<circle cx="252.4" cy="105.7" r="2.0" fill="#cf8936" stroke="#b9772e"/>
<circle cx="254.2" cy="107.1" r="2.0" fill="#cf8936" stroke="#b9772e"/>
<circle cx="252.4" cy="109.0" r="2.0" fill="#cf8936" stroke="#b9772e"/>
<circle cx="253.3" cy="110.9" r="2.0" fill="#cf8936" stroke="#b9772e"/>
<circle cx="257.6" cy="108.1" r="2.0" fill="#17606f" stroke="#135666"/>
<circle cx="260.4" cy="109.0" r="2.0" fill="#cf8936" stroke="#b9772e"/>
<circle cx="242.0" cy="111.4" r="2.0" fill="#cf8936" stroke="#b9772e"/>
<circle cx="244.3" cy="110.4" r="2.0" fill="#cf8936" stroke="#b9772e"/>
<circle cx="246.7" cy="109.5" r="2.0" fill="#cf8936" stroke="#b9772e"/>
<circle cx="258.5" cy="112.3" r="2.0" fill="#17606f" stroke="#135666"/>
<circle cx="257.6" cy="114.7" r="2.0" fill="#17606f" stroke="#135666"/>
<circle cx="248.1" cy="114.7" r="2.0" fill="#cf8936" stroke="#b9772e"/>
<circle cx="233.5" cy="114.7" r="2.0" fill="#cf8936" stroke="#b9772e"/>
<circle cx="234.4" cy="116.6" r="2.0" fill="#c12d34" stroke="#a5232b"/>
<circle cx="234.4" cy="119.9" r="2.0" fill="#c12d34" stroke="#a5232b"/>
<circle cx="229.7" cy="118.0" r="2.0" fill="#17606f" stroke="#135666"/>
<circle cx="240.1" cy="117.5" r="2.0" fill="#cf8936" stroke="#b9772e"/>
<circle cx="256.1" cy="118.3" r="2.0" fill="#17606f" stroke="#135666"/>
<circle cx="245.3" cy="119.9" r="2.0" fill="#c12d34" stroke="#a5232b"/>
<circle cx="248.1" cy="120.2" r="2.0" fill="#c12d34" stroke="#a5232b"/>
<circle cx="251.4" cy="119.9" r="2.0" fill="#c12d34" stroke="#a5232b"/>
<circle cx="234.4" cy="121.5" r="2.0" fill="#c12d34" stroke="#a5232b"/>
<circle cx="241.0" cy="125.1" r="2.0" fill="#cf8936" stroke="#b9772e"/>
<circle cx="246.8" cy="125.0" r="2.0" fill="#c12d34" stroke="#a5232b"/>
<circle cx="247.6" cy="126.7" r="2.0" fill="#c12d34" stroke="#a5232b"/>
<circle cx="239.5" cy="128.3" r="2.0" fill="#cf8936" stroke="#b9772e"/>
<circle cx="238.0" cy="130.4" r="2.0" fill="#cf8936" stroke="#b9772e"/>
<circle cx="252.0" cy="127.8" r="2.0" fill="#17606f" stroke="#135666"/>
<circle cx="249.4" cy="129.8" r="2.0" fill="#17606f" stroke="#135666"/>
<circle cx="245.2" cy="131.9" r="2.0" fill="#17606f" stroke="#135666"/>
<circle cx="244.2" cy="130.4" r="2.0" fill="#cf8936" stroke="#b9772e"/>
<circle cx="231.8" cy="134.5" r="2.0" fill="#c12d34" stroke="#a5232b"/>
<circle cx="231.8" cy="137.6" r="2.0" fill="#c12d34" stroke="#a5232b"/>
<circle cx="235.9" cy="136.6" r="2.0" fill="#cf8936" stroke="#b9772e"/>
<circle cx="259.2" cy="133.0" r="2.0" fill="#c12d34" stroke="#a5232b"/>
<circle cx="256.6" cy="135.5" r="2.0" fill="#c12d34" stroke="#a5232b"/>
<circle cx="258.7" cy="136.6" r="2.0" fill="#c12d34" stroke="#a5232b"/>
<circle cx="265.5" cy="132.4" r="2.0" fill="#cf8936" stroke="#b9772e"/>
<circle cx="270.6" cy="132.4" r="2.0" fill="#cf8936" stroke="#b9772e"/>
<circle cx="270.1" cy="135.0" r="2.0" fill="#cf8936" stroke="#b9772e"/>
<circle cx="269.6" cy="137.6" r="2.0" fill="#cf8936" stroke="#b9772e"/>
<circle cx="239.0" cy="142.0" r="2.0" fill="#c12d34" stroke="#a5232b"/>
<circle cx="231.8" cy="147.5" r="2.0" fill="#cf8936" stroke="#b9772e"/>
<circle cx="233.8" cy="147.5" r="2.0" fill="#cf8936" stroke="#b9772e"/>
<circle cx="237.0" cy="149.5" r="2.0" fill="#cf8936" stroke="#b9772e"/>
<circle cx="236.4" cy="154.7" r="2.0" fill="#cf8936" stroke="#b9772e"/>
<circle cx="275.8" cy="108.1" r="2.0" fill="#cf8936" stroke="#b9772e"/>
<circle cx="277.2" cy="110.9" r="2.0" fill="#cf8936" stroke="#b9772e"/>
<circle cx="277.9" cy="113.3" r="2.0" fill="#cf8936" stroke="#b9772e"/>
<circle cx="272.5" cy="105.2" r="2.0" fill="#17606f" stroke="#135666"/>
<circle cx="282.4" cy="107.3" r="2.0" fill="#cf8936" stroke="#b9772e"/>
<circle cx="318.8" cy="99.4" r="2.0" fill="#cf8936" stroke="#b9772e"/>
<circle cx="294.5" cy="121.1" r="2.0" fill="#17606f" stroke="#135666"/>
<circle cx="287.8" cy="139.2" r="2.0" fill="#c12d34" stroke="#a5232b"/>
<circle cx="371.4" cy="95.8" r="2.0" fill="#17606f" stroke="#135666"/>
<circle cx="375.1" cy="99.1" r="2.0" fill="#17606f" stroke="#135666"/>
<circle cx="373.7" cy="101.9" r="2.0" fill="#17606f" stroke="#135666"/>
<circle cx="367.1" cy="99.1" r="2.0" fill="#cf8936" stroke="#b9772e"/>
<circle cx="367.1" cy="101.5" r="2.0" fill="#17606f" stroke="#135666"/>
<circle cx="345.4" cy="103.3" r="2.0" fill="#cf8936" stroke="#b9772e"/>
<circle cx="332.6" cy="107.1" r="2.0" fill="#cf8936" stroke="#b9772e"/>
<circle cx="335.0" cy="109.0" r="2.0" fill="#cf8936" stroke="#b9772e"/>
<circle cx="336.4" cy="110.4" r="2.0" fill="#cf8936" stroke="#b9772e"/>
<circle cx="340.7" cy="110.0" r="2.0" fill="#cf8936" stroke="#b9772e"/>
<circle cx="353.9" cy="104.3" r="2.0" fill="#cf8936" stroke="#b9772e"/>
<circle cx="356.2" cy="106.2" r="2.0" fill="#cf8936" stroke="#b9772e"/>
<circle cx="353.9" cy="107.6" r="2.0" fill="#cf8936" stroke="#b9772e"/>
<circle cx="352.0" cy="109.0" r="2.0" fill="#cf8936" stroke="#b9772e"/>
<circle cx="362.9" cy="103.8" r="2.0" fill="#cf8936" stroke="#b9772e"/>
<circle cx="360.0" cy="107.1" r="2.0" fill="#17606f" stroke="#135666"/>
<circle cx="362.4" cy="107.6" r="2.0" fill="#17606f" stroke="#135666"/>
<circle cx="361.9" cy="110.0" r="2.0" fill="#17606f" stroke="#135666"/>
<circle cx="363.3" cy="111.8" r="2.0" fill="#17606f" stroke="#135666"/>
<circle cx="364.8" cy="112.8" r="2.0" fill="#17606f" stroke="#135666"/>
<circle cx="362.4" cy="113.3" r="2.0" fill="#17606f" stroke="#135666"/>
<circle cx="347.7" cy="110.4" r="2.0" fill="#cf8936" stroke="#b9772e"/>
<circle cx="346.8" cy="112.8" r="2.0" fill="#cf8936" stroke="#b9772e"/>
<circle cx="349.2" cy="113.3" r="2.0" fill="#cf8936" stroke="#b9772e"/>
<circle cx="354.4" cy="110.9" r="2.0" fill="#cf8936" stroke="#b9772e"/>
<circle cx="359.1" cy="111.8" r="2.0" fill="#cf8936" stroke="#b9772e"/>
<circle cx="359.1" cy="114.2" r="2.0" fill="#cf8936" stroke="#b9772e"/>
<circle cx="370.4" cy="110.4" r="2.0" fill="#17606f" stroke="#135666"/>
<circle cx="374.2" cy="107.1" r="2.0" fill="#cf8936" stroke="#b9772e"/>
<circle cx="366.2" cy="114.7" r="2.0" fill="#c12d34" stroke="#a5232b"/>
<circle cx="364.8" cy="116.6" r="2.0" fill="#c12d34" stroke="#a5232b"/>
<circle cx="350.6" cy="117.5" r="2.0" fill="#17606f" stroke="#135666"/>
<circle cx="354.8" cy="118.0" r="2.0" fill="#17606f" stroke="#135666"/>
<circle cx="346.3" cy="119.4" r="2.0" fill="#c12d34" stroke="#a5232b"/>
<circle cx="347.7" cy="120.8" r="2.0" fill="#c12d34" stroke="#a5232b"/>
<circle cx="357.2" cy="119.4" r="2.0" fill="#c12d34" stroke="#a5232b"/>
<circle cx="360.0" cy="119.9" r="2.0" fill="#c12d34" stroke="#a5232b"/>
<circle cx="362.4" cy="118.5" r="2.0" fill="#c12d34" stroke="#a5232b"/>
<circle cx="366.2" cy="120.6" r="2.0" fill="#17606f" stroke="#135666"/>
<circle cx="372.1" cy="121.0" r="2.0" fill="#c12d34" stroke="#a5232b"/>
<circle cx="344.9" cy="125.4" r="2.0" fill="#cf8936" stroke="#b9772e"/>
<circle cx="357.7" cy="125.8" r="2.0" fill="#c12d34" stroke="#a5232b"/>
<circle cx="360.7" cy="124.7" r="2.0" fill="#cf8936" stroke="#b9772e"/>
<circle cx="369.0" cy="125.4" r="2.0" fill="#cf8936" stroke="#b9772e"/>
<circle cx="346.7" cy="128.3" r="2.0" fill="#cf8936" stroke="#b9772e"/>
<circle cx="347.8" cy="130.4" r="2.0" fill="#cf8936" stroke="#b9772e"/>
<circle cx="349.3" cy="133.0" r="2.0" fill="#cf8936" stroke="#b9772e"/>
<circle cx="351.4" cy="130.4" r="2.0" fill="#17606f" stroke="#135666"/>
<circle cx="370.0" cy="128.3" r="2.0" fill="#cf8936" stroke="#b9772e"/>
<circle cx="374.7" cy="130.4" r="2.0" fill="#cf8936" stroke="#b9772e"/>
<circle cx="359.7" cy="131.9" r="2.0" fill="#17606f" stroke="#135666"/>
<circle cx="358.1" cy="136.1" r="2.0" fill="#cf8936" stroke="#b9772e"/>
<circle cx="365.4" cy="133.5" r="2.0" fill="#c12d34" stroke="#a5232b"/>
<circle cx="365.9" cy="135.5" r="2.0" fill="#c12d34" stroke="#a5232b"/>
<circle cx="362.3" cy="136.6" r="2.0" fill="#cf8936" stroke="#b9772e"/>
<circle cx="364.3" cy="138.1" r="2.0" fill="#cf8936" stroke="#b9772e"/>
<circle cx="369.0" cy="136.6" r="2.0" fill="#cf8936" stroke="#b9772e"/>
<circle cx="371.1" cy="135.5" r="2.0" fill="#cf8936" stroke="#b9772e"/>
<circle cx="373.2" cy="135.5" r="2.0" fill="#c12d34" stroke="#a5232b"/>
<circle cx="374.7" cy="139.2" r="2.0" fill="#c12d34" stroke="#a5232b"/>
<circle cx="350.0" cy="142.0" r="2.0" fill="#c12d34" stroke="#a5232b"/>
<circle cx="340.7" cy="147.2" r="2.0" fill="#cf8936" stroke="#b9772e"/>
<circle cx="352.7" cy="148.0" r="2.0" fill="#cf8936" stroke="#b9772e"/>
<circle cx="361.0" cy="149.5" r="2.0" fill="#cf8936" stroke="#b9772e"/>
<circle cx="339.5" cy="154.7" r="2.0" fill="#cf8936" stroke="#b9772e"/>
<circle cx="376.8" cy="101.0" r="2.0" fill="#17606f" stroke="#135666"/>
<circle cx="382.7" cy="103.3" r="2.0" fill="#17606f" stroke="#135666"/>
<circle cx="383.0" cy="111.4" r="2.0" fill="#cf8936" stroke="#b9772e"/>
<circle cx="396.7" cy="110.7" r="2.0" fill="#cf8936" stroke="#b9772e"/>
<circle cx="422.0" cy="105.7" r="2.0" fill="#17606f" stroke="#135666"/>
<circle cx="385.6" cy="132.4" r="2.0" fill="#cf8936" stroke="#b9772e"/>
<circle cx="451.6" cy="95.8" r="2.0" fill="#17606f" stroke="#135666"/>
<circle cx="447.8" cy="101.0" r="2.0" fill="#17606f" stroke="#135666"/>
<circle cx="450.7" cy="101.0" r="2.0" fill="#17606f" stroke="#135666"/>
<circle cx="449.3" cy="102.4" r="2.0" fill="#17606f" stroke="#135666"/>
<circle cx="472.6" cy="99.1" r="2.0" fill="#17606f" stroke="#135666"/>
<circle cx="477.1" cy="99.1" r="2.0" fill="#cf8936" stroke="#b9772e"/>
<circle cx="443.1" cy="103.3" r="2.0" fill="#cf8936" stroke="#b9772e"/>
<circle cx="450.2" cy="104.3" r="2.0" fill="#cf8936" stroke="#b9772e"/>
<circle cx="436.5" cy="110.0" r="2.0" fill="#cf8936" stroke="#b9772e"/>
<circle cx="443.6" cy="110.0" r="2.0" fill="#cf8936" stroke="#b9772e"/>
<circle cx="453.0" cy="107.6" r="2.0" fill="#cf8936" stroke="#b9772e"/>
<circle cx="456.4" cy="107.1" r="2.0" fill="#cf8936" stroke="#b9772e"/>
<circle cx="454.5" cy="110.4" r="2.0" fill="#cf8936" stroke="#b9772e"/>
<circle cx="458.2" cy="109.5" r="2.0" fill="#cf8936" stroke="#b9772e"/>
<circle cx="453.0" cy="112.8" r="2.0" fill="#cf8936" stroke="#b9772e"/>
<circle cx="455.4" cy="113.3" r="2.0" fill="#cf8936" stroke="#b9772e"/>
<circle cx="463.0" cy="106.7" r="2.0" fill="#cf8936" stroke="#b9772e"/>
<circle cx="465.8" cy="104.3" r="2.0" fill="#cf8936" stroke="#b9772e"/>
<circle cx="465.3" cy="108.1" r="2.0" fill="#cf8936" stroke="#b9772e"/>
<circle cx="463.9" cy="110.4" r="2.0" fill="#cf8936" stroke="#b9772e"/>
<circle cx="465.8" cy="110.9" r="2.0" fill="#cf8936" stroke="#b9772e"/>
<circle cx="460.1" cy="110.9" r="2.0" fill="#cf8936" stroke="#b9772e"/>
<circle cx="468.6" cy="110.4" r="2.0" fill="#17606f" stroke="#135666"/>
<circle cx="472.0" cy="108.1" r="2.0" fill="#17606f" stroke="#135666"/>
<circle cx="471.5" cy="110.9" r="2.0" fill="#17606f" stroke="#135666"/>
<circle cx="469.6" cy="112.3" r="2.0" fill="#17606f" stroke="#135666"/>
<circle cx="477.1" cy="107.6" r="2.0" fill="#cf8936" stroke="#b9772e"/>
<circle cx="477.6" cy="110.0" r="2.0" fill="#cf8936" stroke="#b9772e"/>
<circle cx="474.3" cy="110.4" r="2.0" fill="#cf8936" stroke="#b9772e"/>
<circle cx="475.3" cy="114.7" r="2.0" fill="#17606f" stroke="#135666"/>
<circle cx="447.8" cy="117.0" r="2.0" fill="#c12d34" stroke="#a5232b"/>
<circle cx="449.3" cy="118.9" r="2.0" fill="#c12d34" stroke="#a5232b"/>
<circle cx="451.2" cy="120.8" r="2.0" fill="#c12d34" stroke="#a5232b"/>
<circle cx="455.9" cy="116.6" r="2.0" fill="#c12d34" stroke="#a5232b"/>
<circle cx="461.1" cy="118.9" r="2.0" fill="#cf8936" stroke="#b9772e"/>
<circle cx="471.0" cy="118.0" r="2.0" fill="#17606f" stroke="#135666"/>
<circle cx="474.3" cy="119.4" r="2.0" fill="#c12d34" stroke="#a5232b"/>
<circle cx="478.1" cy="120.4" r="2.0" fill="#c12d34" stroke="#a5232b"/>
<circle cx="443.1" cy="125.5" r="2.0" fill="#cf8936" stroke="#b9772e"/>
<circle cx="462.2" cy="125.5" r="2.0" fill="#cf8936" stroke="#b9772e"/>
<circle cx="435.3" cy="127.8" r="2.0" fill="#cf8936" stroke="#b9772e"/>
<circle cx="450.8" cy="130.2" r="2.0" fill="#cf8936" stroke="#b9772e"/>
<circle cx="447.2" cy="133.0" r="2.0" fill="#c12d34" stroke="#a5232b"/>
<circle cx="457.0" cy="128.1" r="2.0" fill="#cf8936" stroke="#b9772e"/>
<circle cx="463.2" cy="130.9" r="2.0" fill="#cf8936" stroke="#b9772e"/>
<circle cx="460.1" cy="130.2" r="2.0" fill="#17606f" stroke="#135666"/>
<circle cx="467.4" cy="130.2" r="2.0" fill="#17606f" stroke="#135666"/>
<circle cx="460.1" cy="136.1" r="2.0" fill="#c12d34" stroke="#a5232b"/>
<circle cx="469.5" cy="139.2" r="2.0" fill="#c12d34" stroke="#a5232b"/>
<circle cx="467.4" cy="141.8" r="2.0" fill="#c12d34" stroke="#a5232b"/>
<circle cx="477.2" cy="131.9" r="2.0" fill="#17606f" stroke="#135666"/>
<circle cx="479.3" cy="137.1" r="2.0" fill="#cf8936" stroke="#b9772e"/>
<circle cx="478.8" cy="126.7" r="2.0" fill="#c12d34" stroke="#a5232b"/>
<circle cx="440.4" cy="136.6" r="2.0" fill="#cf8936" stroke="#b9772e"/>
<circle cx="445.6" cy="146.9" r="2.0" fill="#cf8936" stroke="#b9772e"/>
<circle cx="447.2" cy="148.0" r="2.0" fill="#cf8936" stroke="#b9772e"/>
<circle cx="443.0" cy="149.5" r="2.0" fill="#cf8936" stroke="#b9772e"/>
<circle cx="441.7" cy="154.7" r="2.0" fill="#cf8936" stroke="#b9772e"/>
<circle cx="487.8" cy="103.2" r="2.0" fill="#17606f" stroke="#135666"/>
<circle cx="491.6" cy="105.7" r="2.0" fill="#17606f" stroke="#135666"/>
<circle cx="487.8" cy="109.0" r="2.0" fill="#17606f" stroke="#135666"/>
<circle cx="489.7" cy="110.4" r="2.0" fill="#17606f" stroke="#135666"/>
<circle cx="491.6" cy="109.5" r="2.0" fill="#cf8936" stroke="#b9772e"/>
<circle cx="478.4" cy="107.6" r="2.0" fill="#cf8936" stroke="#b9772e"/>
<circle cx="479.8" cy="110.9" r="2.0" fill="#17606f" stroke="#135666"/>
<circle cx="491.0" cy="121.0" r="2.0" fill="#17606f" stroke="#135666"/>
<circle cx="519.0" cy="105.7" r="2.0" fill="#17606f" stroke="#135666"/>
<circle cx="514.3" cy="119.9" r="2.0" fill="#c12d34" stroke="#a5232b"/>
<circle cx="524.6" cy="124.7" r="2.0" fill="#cf8936" stroke="#b9772e"/>
<circle cx="488.2" cy="127.8" r="2.0" fill="#17606f" stroke="#135666"/>
<circle cx="482.7" cy="131.9" r="2.0" fill="#cf8936" stroke="#b9772e"/>
<circle cx="484.8" cy="133.5" r="2.0" fill="#cf8936" stroke="#b9772e"/>
<circle cx="486.9" cy="135.5" r="2.0" fill="#cf8936" stroke="#b9772e"/>
<circle cx="483.3" cy="136.1" r="2.0" fill="#c12d34" stroke="#a5232b"/>
<circle cx="490.5" cy="137.6" r="2.0" fill="#c12d34" stroke="#a5232b"/>
<circle cx="362.9" cy="165.8" r="2.0" fill="#cf8936" stroke="#b9772e"/>
<circle cx="362.9" cy="169.6" r="2.0" fill="#17606f" stroke="#135666"/>
<circle cx="373.7" cy="170.0" r="2.0" fill="#cf8936" stroke="#b9772e"/>
<circle cx="375.1" cy="172.4" r="2.0" fill="#17606f" stroke="#135666"/>
<circle cx="372.3" cy="174.3" r="2.0" fill="#17606f" stroke="#135666"/>
<circle cx="371.4" cy="176.2" r="2.0" fill="#17606f" stroke="#135666"/>
<circle cx="346.3" cy="171.5" r="2.0" fill="#cf8936" stroke="#b9772e"/>
<circle cx="344.9" cy="173.8" r="2.0" fill="#cf8936" stroke="#b9772e"/>
<circle cx="349.2" cy="170.5" r="2.0" fill="#cf8936" stroke="#b9772e"/>
<circle cx="352.5" cy="170.5" r="2.0" fill="#cf8936" stroke="#b9772e"/>
<circle cx="354.4" cy="171.5" r="2.0" fill="#cf8936" stroke="#b9772e"/>
<circle cx="356.2" cy="173.3" r="2.0" fill="#17606f" stroke="#135666"/>
<circle cx="359.1" cy="172.9" r="2.0" fill="#17606f" stroke="#135666"/>
<circle cx="361.9" cy="173.3" r="2.0" fill="#17606f" stroke="#135666"/>
<circle cx="364.8" cy="173.8" r="2.0" fill="#17606f" stroke="#135666"/>
<circle cx="366.2" cy="174.3" r="2.0" fill="#17606f" stroke="#135666"/>
<circle cx="340.2" cy="176.7" r="2.0" fill="#cf8936" stroke="#b9772e"/>
<circle cx="332.1" cy="178.5" r="2.0" fill="#cf8936" stroke="#b9772e"/>
<circle cx="334.0" cy="180.4" r="2.0" fill="#cf8936" stroke="#b9772e"/>
<circle cx="335.9" cy="181.8" r="2.0" fill="#cf8936" stroke="#b9772e"/>
<circle cx="338.3" cy="182.8" r="2.0" fill="#cf8936" stroke="#b9772e"/>
<circle cx="340.7" cy="184.2" r="2.0" fill="#cf8936" stroke="#b9772e"/>
<circle cx="349.6" cy="175.2" r="2.0" fill="#17606f" stroke="#135666"/>
<circle cx="351.0" cy="177.1" r="2.0" fill="#17606f" stroke="#135666"/>
<circle cx="348.7" cy="177.6" r="2.0" fill="#17606f" stroke="#135666"/>
<circle cx="344.9" cy="179.0" r="2.0" fill="#c12d34" stroke="#a5232b"/>
<circle cx="347.3" cy="180.4" r="2.0" fill="#c12d34" stroke="#a5232b"/>
<circle cx="347.3" cy="182.3" r="2.0" fill="#cf8936" stroke="#b9772e"/>
<circle cx="358.6" cy="177.1" r="2.0" fill="#17606f" stroke="#135666"/>
<circle cx="360.0" cy="178.5" r="2.0" fill="#17606f" stroke="#135666"/>
<circle cx="357.9" cy="179.8" r="2.0" fill="#c12d34" stroke="#a5232b"/>
<circle cx="363.8" cy="177.6" r="2.0" fill="#c12d34" stroke="#a5232b"/>
<circle cx="366.2" cy="178.5" r="2.0" fill="#c12d34" stroke="#a5232b"/>
<circle cx="372.3" cy="178.5" r="2.0" fill="#c12d34" stroke="#a5232b"/>
<circle cx="362.9" cy="180.9" r="2.0" fill="#cf8936" stroke="#b9772e"/>
<circle cx="361.4" cy="183.7" r="2.0" fill="#cf8936" stroke="#b9772e"/>
<circle cx="360.0" cy="186.6" r="2.0" fill="#cf8936" stroke="#b9772e"/>
<circle cx="358.6" cy="189.9" r="2.0" fill="#cf8936" stroke="#b9772e"/>
<circle cx="358.9" cy="191.9" r="2.0" fill="#cf8936" stroke="#b9772e"/>
<circle cx="353.9" cy="182.8" r="2.0" fill="#cf8936" stroke="#b9772e"/>
<circle cx="352.5" cy="184.7" r="2.0" fill="#cf8936" stroke="#b9772e"/>
<circle cx="351.0" cy="186.6" r="2.0" fill="#cf8936" stroke="#b9772e"/>
<circle cx="349.6" cy="188.5" r="2.0" fill="#cf8936" stroke="#b9772e"/>
<circle cx="349.2" cy="189.9" r="2.0" fill="#cf8936" stroke="#b9772e"/>
<circle cx="366.2" cy="183.7" r="2.0" fill="#17606f" stroke="#135666"/>
<circle cx="366.6" cy="185.6" r="2.0" fill="#17606f" stroke="#135666"/>
<circle cx="373.3" cy="185.2" r="2.0" fill="#c12d34" stroke="#a5232b"/>
<circle cx="370.4" cy="187.0" r="2.0" fill="#17606f" stroke="#135666"/>
<circle cx="365.2" cy="187.5" r="2.0" fill="#c12d34" stroke="#a5232b"/>
<circle cx="366.6" cy="188.5" r="2.0" fill="#c12d34" stroke="#a5232b"/>
<circle cx="356.2" cy="188.5" r="2.0" fill="#17606f" stroke="#135666"/>
<circle cx="363.8" cy="189.9" r="2.0" fill="#17606f" stroke="#135666"/>
<circle cx="364.0" cy="191.4" r="2.0" fill="#17606f" stroke="#135666"/>
<circle cx="349.7" cy="193.9" r="2.0" fill="#cf8936" stroke="#b9772e"/>
<circle cx="347.7" cy="187.0" r="2.0" fill="#cf8936" stroke="#b9772e"/>
<circle cx="346.7" cy="199.1" r="2.0" fill="#17606f" stroke="#135666"/>
<circle cx="355.0" cy="197.8" r="2.0" fill="#17606f" stroke="#135666"/>
<circle cx="358.6" cy="198.1" r="2.0" fill="#c12d34" stroke="#a5232b"/>
<circle cx="349.8" cy="201.9" r="2.0" fill="#c12d34" stroke="#a5232b"/>
<circle cx="363.8" cy="200.4" r="2.0" fill="#cf8936" stroke="#b9772e"/>
<circle cx="374.7" cy="205.0" r="2.0" fill="#c12d34" stroke="#a5232b"/>
<circle cx="369.5" cy="207.1" r="2.0" fill="#cf8936" stroke="#b9772e"/>
<circle cx="369.3" cy="210.2" r="2.0" fill="#cf8936" stroke="#b9772e"/>
<circle cx="374.7" cy="214.0" r="2.0" fill="#cf8936" stroke="#b9772e"/>
<circle cx="369.5" cy="224.7" r="2.0" fill="#cf8936" stroke="#b9772e"/>
<circle cx="376.8" cy="171.9" r="2.0" fill="#17606f" stroke="#135666"/>
<circle cx="382.7" cy="174.3" r="2.0" fill="#17606f" stroke="#135666"/>
<circle cx="396.7" cy="174.3" r="2.0" fill="#cf8936" stroke="#b9772e"/>
<circle cx="422.0" cy="173.2" r="2.0" fill="#17606f" stroke="#135666"/>
<circle cx="385.8" cy="191.3" r="2.0" fill="#cf8936" stroke="#b9772e"/>
<circle cx="465.8" cy="165.8" r="2.0" fill="#cf8936" stroke="#b9772e"/>
<circle cx="436.0" cy="173.8" r="2.0" fill="#cf8936" stroke="#b9772e"/>
<circle cx="443.1" cy="172.9" r="2.0" fill="#cf8936" stroke="#b9772e"/>
<circle cx="443.6" cy="176.2" r="2.0" fill="#cf8936" stroke="#b9772e"/>
<circle cx="450.7" cy="171.9" r="2.0" fill="#17606f" stroke="#135666"/>
<circle cx="448.8" cy="173.8" r="2.0" fill="#17606f" stroke="#135666"/>
<circle cx="447.8" cy="176.2" r="2.0" fill="#17606f" stroke="#135666"/>
<circle cx="450.7" cy="176.2" r="2.0" fill="#17606f" stroke="#135666"/>
<circle cx="449.7" cy="178.1" r="2.0" fill="#17606f" stroke="#135666"/>
<circle cx="454.9" cy="170.5" r="2.0" fill="#cf8936" stroke="#b9772e"/>
<circle cx="457.3" cy="170.0" r="2.0" fill="#cf8936" stroke="#b9772e"/>
<circle cx="455.4" cy="172.9" r="2.0" fill="#cf8936" stroke="#b9772e"/>
<circle cx="454.0" cy="174.3" r="2.0" fill="#cf8936" stroke="#b9772e"/>
<circle cx="464.4" cy="170.5" r="2.0" fill="#cf8936" stroke="#b9772e"/>
<circle cx="463.9" cy="172.4" r="2.0" fill="#17606f" stroke="#135666"/>
<circle cx="466.8" cy="172.9" r="2.0" fill="#17606f" stroke="#135666"/>
<circle cx="469.6" cy="172.4" r="2.0" fill="#17606f" stroke="#135666"/>
<circle cx="472.4" cy="171.9" r="2.0" fill="#17606f" stroke="#135666"/>
<circle cx="467.7" cy="175.2" r="2.0" fill="#17606f" stroke="#135666"/>
<circle cx="466.8" cy="177.6" r="2.0" fill="#17606f" stroke="#135666"/>
<circle cx="468.6" cy="178.1" r="2.0" fill="#17606f" stroke="#135666"/>
<circle cx="460.1" cy="175.7" r="2.0" fill="#17606f" stroke="#135666"/>
<circle cx="460.1" cy="173.8" r="2.0" fill="#cf8936" stroke="#b9772e"/>
<circle cx="450.7" cy="179.5" r="2.0" fill="#c12d34" stroke="#a5232b"/>
<circle cx="455.9" cy="178.5" r="2.0" fill="#c12d34" stroke="#a5232b"/>
<circle cx="456.4" cy="180.4" r="2.0" fill="#c12d34" stroke="#a5232b"/>
<circle cx="462.0" cy="179.0" r="2.0" fill="#cf8936" stroke="#b9772e"/>
<circle cx="463.0" cy="181.4" r="2.0" fill="#cf8936" stroke="#b9772e"/>
<circle cx="441.2" cy="183.3" r="2.0" fill="#cf8936" stroke="#b9772e"/>
<circle cx="443.6" cy="183.3" r="2.0" fill="#cf8936" stroke="#b9772e"/>
<circle cx="445.5" cy="184.7" r="2.0" fill="#cf8936" stroke="#b9772e"/>
<circle cx="446.9" cy="186.1" r="2.0" fill="#cf8936" stroke="#b9772e"/>
<circle cx="448.8" cy="187.5" r="2.0" fill="#cf8936" stroke="#b9772e"/>
<circle cx="450.2" cy="188.9" r="2.0" fill="#cf8936" stroke="#b9772e"/>
<circle cx="451.6" cy="181.8" r="2.0" fill="#cf8936" stroke="#b9772e"/>
<circle cx="453.5" cy="183.3" r="2.0" fill="#cf8936" stroke="#b9772e"/>
<circle cx="455.4" cy="182.3" r="2.0" fill="#cf8936" stroke="#b9772e"/>
<circle cx="453.5" cy="186.6" r="2.0" fill="#cf8936" stroke="#b9772e"/>
<circle cx="454.9" cy="188.5" r="2.0" fill="#cf8936" stroke="#b9772e"/>
<circle cx="454.5" cy="190.4" r="2.0" fill="#cf8936" stroke="#b9772e"/>
<circle cx="477.1" cy="177.1" r="2.0" fill="#17606f" stroke="#135666"/>
<circle cx="474.8" cy="179.5" r="2.0" fill="#c12d34" stroke="#a5232b"/>
<circle cx="477.1" cy="180.9" r="2.0" fill="#c12d34" stroke="#a5232b"/>
<circle cx="476.7" cy="187.0" r="2.0" fill="#cf8936" stroke="#b9772e"/>
<circle cx="475.3" cy="191.4" r="2.0" fill="#17606f" stroke="#135666"/>
<circle cx="449.8" cy="190.2" r="2.0" fill="#cf8936" stroke="#b9772e"/>
<circle cx="471.0" cy="197.8" r="2.0" fill="#17606f" stroke="#135666"/>
<circle cx="460.1" cy="197.8" r="2.0" fill="#c12d34" stroke="#a5232b"/>
<circle cx="461.7" cy="200.4" r="2.0" fill="#cf8936" stroke="#b9772e"/>
<circle cx="467.4" cy="201.4" r="2.0" fill="#c12d34" stroke="#a5232b"/>
<circle cx="469.5" cy="205.0" r="2.0" fill="#c12d34" stroke="#a5232b"/>
<circle cx="447.2" cy="203.0" r="2.0" fill="#c12d34" stroke="#a5232b"/>
<circle cx="435.3" cy="207.8" r="2.0" fill="#cf8936" stroke="#b9772e"/>
<circle cx="443.0" cy="210.7" r="2.0" fill="#cf8936" stroke="#b9772e"/>
<circle cx="451.0" cy="214.0" r="2.0" fill="#cf8936" stroke="#b9772e"/>
<circle cx="440.4" cy="224.7" r="2.0" fill="#cf8936" stroke="#b9772e"/>
<circle cx="491.6" cy="169.4" r="2.0" fill="#17606f" stroke="#135666"/>
<circle cx="487.8" cy="174.3" r="2.0" fill="#17606f" stroke="#135666"/>
<circle cx="479.3" cy="180.4" r="2.0" fill="#c12d34" stroke="#a5232b"/>
<circle cx="476.5" cy="180.9" r="2.0" fill="#cf8936" stroke="#b9772e"/>
<circle cx="485.5" cy="183.3" r="2.0" fill="#c12d34" stroke="#a5232b"/>
<circle cx="486.9" cy="185.2" r="2.0" fill="#c12d34" stroke="#a5232b"/>
<circle cx="491.6" cy="182.0" r="2.0" fill="#cf8936" stroke="#b9772e"/>
<circle cx="491.1" cy="184.2" r="2.0" fill="#17606f" stroke="#135666"/>
<circle cx="479.3" cy="187.0" r="2.0" fill="#17606f" stroke="#135666"/>
<circle cx="483.6" cy="188.0" r="2.0" fill="#c12d34" stroke="#a5232b"/>
<circle cx="489.7" cy="188.5" r="2.0" fill="#17606f" stroke="#135666"/>
<circle cx="488.3" cy="190.4" r="2.0" fill="#17606f" stroke="#135666"/>
<circle cx="481.7" cy="191.5" r="2.0" fill="#cf8936" stroke="#b9772e"/>
<circle cx="483.1" cy="193.4" r="2.0" fill="#cf8936" stroke="#b9772e"/>
<circle cx="484.5" cy="192.2" r="2.0" fill="#cf8936" stroke="#b9772e"/>
<circle cx="519.0" cy="173.2" r="2.0" fill="#17606f" stroke="#135666"/>
<circle cx="514.3" cy="179.5" r="2.0" fill="#c12d34" stroke="#a5232b"/>
<circle cx="524.7" cy="180.1" r="2.0" fill="#cf8936" stroke="#b9772e"/>
<circle cx="488.2" cy="199.1" r="2.0" fill="#17606f" stroke="#135666"/>
<circle cx="459.9" cy="252.0" r="2.0" fill="#cf8936" stroke="#b9772e"/>
<circle cx="467.9" cy="260.9" r="2.0" fill="#cf8936" stroke="#b9772e"/>
<circle cx="451.3" cy="264.9" r="2.0" fill="#17606f" stroke="#135666"/>
<circle cx="456.9" cy="266.2" r="2.0" fill="#cf8936" stroke="#b9772e"/>
<circle cx="469.5" cy="266.2" r="2.0" fill="#c12d34" stroke="#a5232b"/>
<circle cx="472.5" cy="265.4" r="2.0" fill="#17606f" stroke="#135666"/>
<circle cx="448.7" cy="267.3" r="2.0" fill="#17606f" stroke="#135666"/>
<circle cx="451.3" cy="267.8" r="2.0" fill="#c12d34" stroke="#a5232b"/>
<circle cx="435.3" cy="269.5" r="2.0" fill="#cf8936" stroke="#b9772e"/>
<circle cx="438.4" cy="269.8" r="2.0" fill="#cf8936" stroke="#b9772e"/>
<circle cx="441.5" cy="269.8" r="2.0" fill="#cf8936" stroke="#b9772e"/>
<circle cx="443.0" cy="270.4" r="2.0" fill="#cf8936" stroke="#b9772e"/>
<circle cx="448.2" cy="270.9" r="2.0" fill="#17606f" stroke="#135666"/>
<circle cx="447.7" cy="273.5" r="2.0" fill="#c12d34" stroke="#a5232b"/>
<circle cx="448.7" cy="275.5" r="2.0" fill="#c12d34" stroke="#a5232b"/>
<circle cx="452.9" cy="273.0" r="2.0" fill="#cf8936" stroke="#b9772e"/>
<circle cx="455.8" cy="272.4" r="2.0" fill="#c12d34" stroke="#a5232b"/>
<circle cx="443.0" cy="275.5" r="2.0" fill="#cf8936" stroke="#b9772e"/>
<circle cx="454.4" cy="276.1" r="2.0" fill="#cf8936" stroke="#b9772e"/>
<circle cx="461.2" cy="273.5" r="2.0" fill="#cf8936" stroke="#b9772e"/>
<circle cx="465.3" cy="273.0" r="2.0" fill="#17606f" stroke="#135666"/>
<circle cx="470.0" cy="274.5" r="2.0" fill="#17606f" stroke="#135666"/>
<circle cx="475.2" cy="273.5" r="2.0" fill="#17606f" stroke="#135666"/>
<circle cx="476.7" cy="275.5" r="2.0" fill="#17606f" stroke="#135666"/>
<circle cx="478.8" cy="269.3" r="2.0" fill="#17606f" stroke="#135666"/>
<circle cx="477.7" cy="271.4" r="2.0" fill="#cf8936" stroke="#b9772e"/>
<circle cx="478.8" cy="273.5" r="2.0" fill="#cf8936" stroke="#b9772e"/>
<circle cx="460.1" cy="277.1" r="2.0" fill="#c12d34" stroke="#a5232b"/>
<circle cx="463.2" cy="278.1" r="2.0" fill="#cf8936" stroke="#b9772e"/>
<circle cx="464.3" cy="280.2" r="2.0" fill="#cf8936" stroke="#b9772e"/>
<circle cx="462.7" cy="282.3" r="2.0" fill="#cf8936" stroke="#b9772e"/>
<circle cx="462.2" cy="285.4" r="2.0" fill="#cf8936" stroke="#b9772e"/>
<circle cx="463.8" cy="276.6" r="2.0" fill="#17606f" stroke="#135666"/>
<circle cx="468.9" cy="278.7" r="2.0" fill="#17606f" stroke="#135666"/>
<circle cx="470.5" cy="276.6" r="2.0" fill="#17606f" stroke="#135666"/>
<circle cx="472.6" cy="277.1" r="2.0" fill="#cf8936" stroke="#b9772e"/>
<circle cx="466.9" cy="280.7" r="2.0" fill="#c12d34" stroke="#a5232b"/>
<circle cx="467.9" cy="283.3" r="2.0" fill="#c12d34" stroke="#a5232b"/>
<circle cx="457.0" cy="279.7" r="2.0" fill="#cf8936" stroke="#b9772e"/>
<circle cx="460.1" cy="282.8" r="2.0" fill="#17606f" stroke="#135666"/>
<circle cx="447.2" cy="282.3" r="2.0" fill="#c12d34" stroke="#a5232b"/>
<circle cx="448.7" cy="280.2" r="2.0" fill="#cf8936" stroke="#b9772e"/>
<circle cx="450.8" cy="281.2" r="2.0" fill="#cf8936" stroke="#b9772e"/>
<circle cx="452.4" cy="284.4" r="2.0" fill="#cf8936" stroke="#b9772e"/>
<circle cx="454.9" cy="284.9" r="2.0" fill="#cf8936" stroke="#b9772e"/>
<circle cx="457.0" cy="284.4" r="2.0" fill="#cf8936" stroke="#b9772e"/>
<circle cx="443.0" cy="285.4" r="2.0" fill="#cf8936" stroke="#b9772e"/>
<circle cx="441.5" cy="289.5" r="2.0" fill="#cf8936" stroke="#b9772e"/>
<circle cx="445.1" cy="289.0" r="2.0" fill="#cf8936" stroke="#b9772e"/>
<circle cx="475.2" cy="285.4" r="2.0" fill="#c12d34" stroke="#a5232b"/>
<circle cx="478.8" cy="284.4" r="2.0" fill="#c12d34" stroke="#a5232b"/>
<circle cx="477.7" cy="291.6" r="2.0" fill="#cf8936" stroke="#b9772e"/>
<circle cx="479.3" cy="292.6" r="2.0" fill="#cf8936" stroke="#b9772e"/>
<circle cx="519.0" cy="236.0" r="2.0" fill="#17606f" stroke="#135666"/>
<circle cx="482.1" cy="259.6" r="2.0" fill="#cf8936" stroke="#b9772e"/>
<circle cx="487.8" cy="261.4" r="2.0" fill="#17606f" stroke="#135666"/>
<circle cx="487.2" cy="267.5" r="2.0" fill="#c12d34" stroke="#a5232b"/>
<circle cx="483.3" cy="272.4" r="2.0" fill="#c12d34" stroke="#a5232b"/>
<circle cx="485.3" cy="273.0" r="2.0" fill="#c12d34" stroke="#a5232b"/>
<circle cx="489.0" cy="273.5" r="2.0" fill="#17606f" stroke="#135666"/>
<circle cx="491.0" cy="271.9" r="2.0" fill="#17606f" stroke="#135666"/>
<circle cx="491.5" cy="274.5" r="2.0" fill="#17606f" stroke="#135666"/>
<circle cx="479.1" cy="277.6" r="2.0" fill="#c12d34" stroke="#a5232b"/>
<circle cx="485.3" cy="277.1" r="2.0" fill="#cf8936" stroke="#b9772e"/>
<circle cx="489.7" cy="278.7" r="2.0" fill="#17606f" stroke="#135666"/>
<circle cx="483.0" cy="283.0" r="2.0" fill="#cf8936" stroke="#b9772e"/>
<circle cx="488.2" cy="284.9" r="2.0" fill="#17606f" stroke="#135666"/>
<circle cx="491.3" cy="293.2" r="2.0" fill="#cf8936" stroke="#b9772e"/>
<circle cx="514.3" cy="277.8" r="2.0" fill="#c12d34" stroke="#a5232b"/>
<circle cx="524.7" cy="275.8" r="2.0" fill="#cf8936" stroke="#b9772e"/>
</g>
</svg>
</body></html>
